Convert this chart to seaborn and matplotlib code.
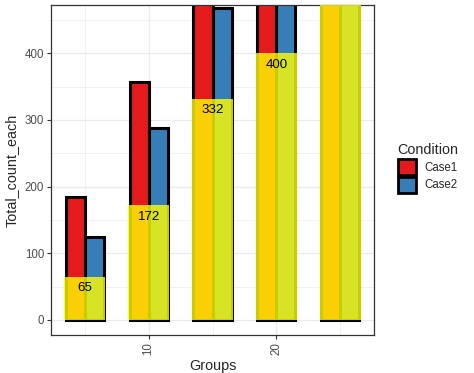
import matplotlib
matplotlib.use("Agg")
import matplotlib.pyplot as plt
import seaborn as sns
import pandas as pd
import numpy as np
from matplotlib.patches import Patch

groups = [5, 10, 15, 20, 25]
case1 = [184, 357, 540, 560, 620]
case2 = [124, 288, 468, 520, 600]
overlap = [65, 172, 332, 400, 520]
conditions = ["Case1", "Case2"]
colors = {"Case1": "#E41A1C", "Case2": "#377EB8"}

df = pd.DataFrame({
    "Groups": groups * 2,
    "Total_count_each": case1 + case2,
    "Condition": ["Case1"] * len(groups) + ["Case2"] * len(groups),
})
df_ov = pd.DataFrame({"Groups": groups, "Total_count_each": overlap})

sns.set_theme(style="white")
plt.rcParams["font.family"] = ["Liberation Sans", "DejaVu Sans"]

fig = plt.figure(figsize=(4.74, 3.73), dpi=100)
ax = fig.add_axes([51 / 474, 1 - 335 / 373, (374 - 51) / 474, (335 - 5) / 373])

sns.barplot(data=df, x="Groups", y="Total_count_each", hue="Condition",
            hue_order=conditions, palette=colors, native_scale=True,
            width=0.6, dodge=True, edgecolor="black", linewidth=2.2,
            saturation=1, errorbar=None, legend=False, ax=ax)
n_first = len(ax.patches)
for p in ax.patches:
    p.set_zorder(2)
sns.barplot(data=df_ov, x="Groups", y="Total_count_each", color="#FFFF00",
            native_scale=True, width=0.64, errorbar=None, ax=ax,
            linewidth=0, alpha=0.8, saturation=1)
for p in ax.patches[n_first:]:
    p.set_zorder(3)

for g, v in zip(groups, overlap):
    ax.annotate(str(v), (g, v), xytext=(0, -4), textcoords="offset points",
                ha="center", va="top", fontsize=9.6, color="black",
                annotation_clip=True, clip_on=True, zorder=4)

ax.set_xlim(2.35, 27.65)
ax.set_ylim(-22.5, 472.5)
ax.set_xticks([10, 20])
ax.set_xticklabels(["10", "20"], rotation=90)
ax.set_xticks([5, 15, 25], minor=True)
ax.set_yticks([0, 100, 200, 300, 400])
ax.set_yticks([50, 150, 250, 350, 450], minor=True)
ax.grid(True, which="major", color="#EBEBEB", linewidth=0.9, zorder=0)
ax.grid(True, which="minor", color="#EBEBEB", linewidth=0.5, zorder=0)
ax.set_axisbelow(True)
ax.tick_params(axis="both", which="major", length=3, width=0.8, color="#333333",
               labelsize=8.3, labelcolor="#4D4D4D", pad=2, bottom=True, left=True)
ax.tick_params(axis="both", which="minor", length=0)
for s in ax.spines.values():
    s.set_color("#333333")
    s.set_linewidth(0.9)
ax.set_xlabel("Groups", fontsize=10.4, labelpad=3)
ax.set_ylabel("Total_count_each", fontsize=10.4, labelpad=4)

handles = [Patch(facecolor=colors[c], edgecolor="black", linewidth=2.0, label=c)
           for c in conditions]
leg = fig.legend(handles=handles, title="Condition", loc="center left",
                 bbox_to_anchor=(393 / 474, 1 - 168 / 373), frameon=False,
                 fontsize=8.3, title_fontsize=10.4, handlelength=1.6,
                 handleheight=1.75, handletextpad=0.7, labelspacing=0.15,
                 borderaxespad=0)
leg._legend_box.align = "left"

fig.savefig("out.png", dpi=100)
